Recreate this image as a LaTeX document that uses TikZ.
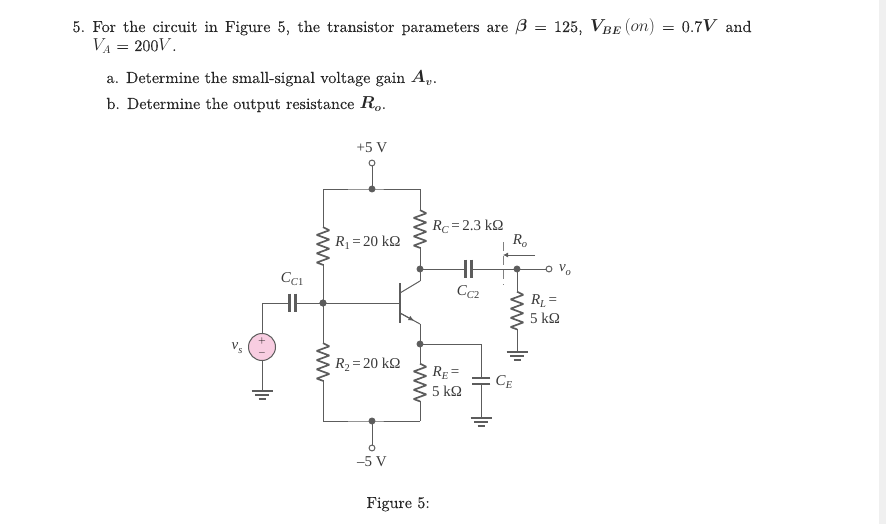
\documentclass[tikz,border=0pt]{standalone}
\usepackage{fontspec}
\usepackage[american voltages, american currents]{circuitikz}
\usetikzlibrary{arrows.meta,calc}
\newfontfamily\figfont{Liberation Serif}
\newfontfamily\qfont{lmroman10-regular}[Extension=.otf,FakeBold=0.15]
\newcommand{\lbsub}[2]{\textit{#1}\raisebox{-.22em}{\fontsize{10.5}{11}\selectfont #2}}
\newcommand{\heavymath}[1]{\mbox{\boldmath$#1$}}
\definecolor{wirecol}{gray}{0.36}
\definecolor{labelcol}{gray}{0.22}
\definecolor{srcpink}{RGB}{248,205,225}
\definecolor{sideband}{gray}{0.94}
\ctikzset{bipoles/length=45pt, bipoles/thickness=1.7, nodes width=.065, resistors/zigs=4}
\ctikzset{capacitors/thickness=2.6}
\ctikzset{bipoles/capacitor/height/.initial=.42, bipoles/capacitor/width/.initial=.13}
\ctikzset{bipoles/resistor/height/.initial=.28}
\tikzset{
  question/.style={anchor=base west, inner sep=0pt, font=\qfont\fontsize{16.1}{19}\selectfont, text=black!85},
  partlab/.style={inner sep=0pt, text=labelcol, font=\figfont\fontsize{15}{16}\selectfont},
  gndsym/.pic={
    \draw[line width=1.7pt] (-10.5,0) -- (10.5,0);
    \draw[line width=1.7pt] (-7,4) -- (7,4);
    \draw[line width=1.7pt] (-3.5,8) -- (3.5,8);
  },
}
\begin{document}
\begin{tikzpicture}[x=1pt,y=-1pt,line width=1pt,color=wirecol]
  \useasboundingbox (0,0) rectangle (886,524);
  \fill[sideband] (879,0) rectangle (886,524);
  \coordinate (TOP) at (372,189);
  \coordinate (VCC) at (372,163);
  \coordinate (TL) at (323,189);
  \coordinate (TR) at (420,189);
  \coordinate (BASE) at (323,303);
  \coordinate (BAR) at (400,303);
  \coordinate (IN) at (262,303);
  \coordinate (COL) at (420,269);
  \coordinate (COLK) at (420,281);
  \coordinate (EMK) at (420,324);
  \coordinate (EM) at (420,344);
  \coordinate (BL) at (323,421);
  \coordinate (BOT) at (372,421);
  \coordinate (BR) at (420,421);
  \coordinate (VEE) at (372,448);
  \coordinate (OUT) at (517,269);
  \coordinate (VO) at (549,269);
  \coordinate (ECAP) at (481,344);
  \coordinate (GS) at (262,391);
  \coordinate (GL) at (517,352);
  \coordinate (GE) at (481,418);
  \draw
  (VCC) to [short, o-*] (TOP)
  (TL) to [short] (TOP) to [short] (TR)
  (TL) to [R, -*] (BASE)
  (BASE) to [R] (BL)
  (BL) to [short] (BOT) to [short] (BR)
  (BOT) to [short, *-o] (VEE)
  (TR) to [R, -*] (COL)
  (COL) to [short] (COLK)
  (COL) to [C] (OUT)
  (OUT) to [short, *-o] (VO)
  (OUT) to [R] (GL)
  (EMK) to [short, -*] (EM)
  (EM) to [R] (BR)
  (EM) to [short] (ECAP)
  (ECAP) to [C] (GE)
  (IN) to [C] (BASE)
  (BASE) to [short, *-] (BAR);
  \begin{scope}
    \ctikzset{bipoles/thickness=1}
    \draw (IN) to [american voltage source, fill=srcpink] (GS);
  \end{scope}
  \pic at (GS) {gndsym};
  \pic at (GL) {gndsym};
  \pic at (GE) {gndsym};
  % transistor
  \coordinate (BART) at (400,283);
  \coordinate (BARB) at (400,323);
  \coordinate (CI) at (400,293);
  \coordinate (EI) at (400,313);
  \draw[line width=2pt] (BART) -- (BARB);
  \draw (CI) -- (COLK);
  \draw (EI) -- (EMK);
  \draw[-{Latex[length=6pt,width=5pt]}] (EI) -- ($(EI)!.72!(EMK)$);
  % Ro marker
  \coordinate (DT) at (503,242);
  \coordinate (DB) at (503,285);
  \coordinate (ROA) at (535,255);
  \coordinate (ROB) at (503,255);
  \draw[dash pattern=on 9pt off 5pt, line width=.7pt, gray] (DT) -- (DB);
  \draw[-{Latex[length=5pt,width=5pt]}, line width=.8pt] (ROA) -- (ROB);
  % labels
  \node[partlab] (lbVcc) at (372,148) {+5 V};
  \node[partlab] (lbVee) at (372,462) {\textendash5 V};
  \node[partlab] (lbR1) at (368,243) {\lbsub{R}{1}\,=\,20 kΩ};
  \node[partlab] (lbR2) at (368,365) {\lbsub{R}{2}\,=\,20 kΩ};
  \node[partlab] (lbRC) at (468,227) {\lbsub{R}{\textit{C}}\,=\,2.3 kΩ};
  \node[partlab] (lbRo) at (520,241) {\lbsub{R}{\textit{o}}};
  \node[partlab] (lbCC1) at (292,279) {\lbsub{C}{\textit{C}1}};
  \node[partlab] (lbCC2) at (468,292) {\lbsub{C}{\textit{C}2}};
  \node[partlab] (lbRL) at (544,301) {\lbsub{R}{\textit{L}}\,=};
  \node[partlab] (lbRLv) at (545,318) {5 kΩ};
  \node[partlab] (lbRE) at (446,373) {\lbsub{R}{\textit{E}}\,=};
  \node[partlab] (lbREv) at (447,391) {5 kΩ};
  \node[partlab] (lbCE) at (504,382) {\lbsub{C}{\textit{E}}};
  \node[partlab] (lbvs) at (237,348) {\lbsub{v}{\textit{s}}};
  \node[partlab] (lbvo) at (565,270) {\lbsub{v}{\textit{o}}};
  \node[question] (caption) at (366,508) {Figure 5:};
  % question text
  \node[question] (num) at (72,32) {5.};
  \node[question] (line1) at (92,32) {\makebox[659pt][s]{For the circuit in Figure 5, the transistor parameters are \heavymath{\beta} = 125, \heavymath{V_{BE}}\,$(on)$ = 0.7\heavymath{V} and}};
  \node[question] (line2) at (92,51) {$V_A$ = 200$V$.};
  \node[question] (parta) at (106,83) {a. Determine the small-signal voltage gain \heavymath{A_v}.};
  \node[question] (partb) at (106,109) {b. Determine the output resistance \heavymath{R_o}.};
\end{tikzpicture}
\end{document}
